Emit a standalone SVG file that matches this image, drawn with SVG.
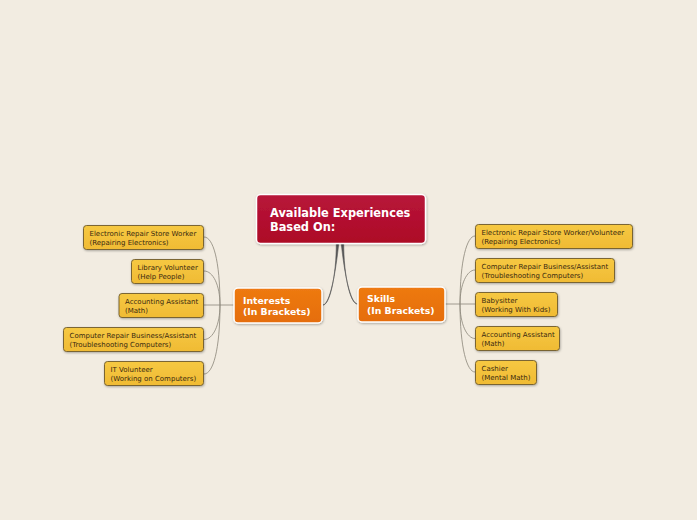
<svg xmlns="http://www.w3.org/2000/svg" width="697" height="520" viewBox="0 0 697 520">
<defs>
<filter id="sh" x="-10%" y="-10%" width="130%" height="140%">
<feDropShadow dx="0.6" dy="1" stdDeviation="0.8" flood-color="#000" flood-opacity="0.3"/>
</filter>
<linearGradient id="gc" x1="0" y1="0" x2="0" y2="1"><stop offset="0" stop-color="#b8153a"/><stop offset="1" stop-color="#ad0a26"/></linearGradient>
<linearGradient id="go" x1="0" y1="0" x2="0" y2="1"><stop offset="0" stop-color="#ee7a12"/><stop offset="1" stop-color="#e56d0a"/></linearGradient>
<linearGradient id="gl" x1="0" y1="0" x2="0" y2="1"><stop offset="0" stop-color="#f6c842"/><stop offset="1" stop-color="#f0bb34"/></linearGradient>
</defs>
<style>
.main{fill:url(#gc);stroke:#fff;stroke-width:1.5;filter:url(#sh)}
.sub{fill:url(#go);stroke:#fff;stroke-width:1.5;filter:url(#sh)}
.leaf{fill:url(#gl);stroke:#6e5a2c;stroke-width:0.9;filter:url(#sh)}
.tm{font-family:"DejaVu Sans",Verdana,sans-serif;font-weight:bold;font-size:11.4px;fill:#fff}
.ts{font-family:"DejaVu Sans",Verdana,sans-serif;font-weight:bold;font-size:9.3px;fill:#fff}
.tl{font-family:"DejaVu Sans",Verdana,sans-serif;font-size:7px;fill:#3a2a10}
.c1{fill:#555;stroke:#555;stroke-width:0.6}
.c2{fill:none;stroke:#8a8578;stroke-width:0.8}
</style>
<rect width="697" height="520" fill="#f2ece1"/>
<g id="connectors">
<path class="c1" d="M336.3,243 C336.3,275 330,305 323,305 C329.5,304.5 335.5,275 338.8,243 Z"/>
<path class="c1" d="M341.2,243 C344.5,275 350.5,303.5 357.5,304 C350,304 343.7,275 343.7,243 Z"/>
<path class="c2" d="M234,305 L220,305"/>
<path class="c2" d="M220,305 C220,260 213,237 204,237"/>
<path class="c2" d="M220,305 C220,285 213,271 204,271"/>
<path class="c2" d="M220,305 L204,305"/>
<path class="c2" d="M220,305 C220,325 213,339.5 204,339.5"/>
<path class="c2" d="M220,305 C220,350 213,374 204,374"/>
<path class="c2" d="M445,304 L460,304"/>
<path class="c2" d="M460,304 C460,260 467,236 475,236"/>
<path class="c2" d="M460,304 C460,284 467,270 475,270"/>
<path class="c2" d="M460,304 L475,304"/>
<path class="c2" d="M460,304 C460,324 467,338.5 475,338.5"/>
<path class="c2" d="M460,304 C460,348 467,372 475,372"/>
</g>
<g id="central">
<rect class="main" x="256.5" y="194.5" width="169" height="49" rx="4"/>
<text class="tm" x="270" y="217">Available Experiences</text>
<text class="tm" x="270" y="230.5">Based On:</text>
</g>
<g id="interests">
<rect class="sub" x="234" y="288" width="88" height="35" rx="4"/>
<text class="ts" x="243" y="303.5">Interests</text>
<text class="ts" x="243" y="315">(In Brackets)</text>
</g>
<g id="skills">
<rect class="sub" x="358" y="287" width="87" height="35" rx="4"/>
<text class="ts" x="367" y="302">Skills</text>
<text class="ts" x="367" y="313.5">(In Brackets)</text>
</g>
<g id="i1">
<rect class="leaf" x="83.5" y="225.5" width="120" height="24" rx="3"/>
<text class="tl" x="89.5" y="236">Electronic Repair Store Worker</text>
<text class="tl" x="89.5" y="244.5">(Repairing Electronics)</text>
</g>
<g id="i2">
<rect class="leaf" x="131.5" y="259.5" width="72" height="24" rx="3"/>
<text class="tl" x="137.5" y="270">Library Volunteer</text>
<text class="tl" x="137.5" y="278.5">(Help People)</text>
</g>
<g id="i3">
<rect class="leaf" x="119" y="293.5" width="84.5" height="24" rx="3"/>
<text class="tl" x="125" y="304">Accounting Assistant</text>
<text class="tl" x="125" y="312.5">(Math)</text>
</g>
<g id="i4">
<rect class="leaf" x="63.5" y="327.5" width="140" height="24" rx="3"/>
<text class="tl" x="69.5" y="338">Computer Repair Business/Assistant</text>
<text class="tl" x="69.5" y="346.5">(Troubleshooting Computers)</text>
</g>
<g id="i5">
<rect class="leaf" x="104.5" y="361.5" width="99" height="24" rx="3"/>
<text class="tl" x="110.5" y="372">IT Volunteer</text>
<text class="tl" x="110.5" y="380.5">(Working on Computers)</text>
</g>
<g id="s1">
<rect class="leaf" x="475.5" y="224.5" width="157" height="24" rx="3"/>
<text class="tl" x="481.5" y="235">Electronic Repair Store Worker/Volunteer</text>
<text class="tl" x="481.5" y="243.5">(Repairing Electronics)</text>
</g>
<g id="s2">
<rect class="leaf" x="475.5" y="258.5" width="139" height="24" rx="3"/>
<text class="tl" x="481.5" y="269">Computer Repair Business/Assistant</text>
<text class="tl" x="481.5" y="277.5">(Troubleshooting Computers)</text>
</g>
<g id="s3">
<rect class="leaf" x="475.5" y="292.5" width="82" height="24" rx="3"/>
<text class="tl" x="481.5" y="303">Babysitter</text>
<text class="tl" x="481.5" y="311.5">(Working With Kids)</text>
</g>
<g id="s4">
<rect class="leaf" x="475.5" y="326.5" width="84" height="24" rx="3"/>
<text class="tl" x="481.5" y="337">Accounting Assistant</text>
<text class="tl" x="481.5" y="345.5">(Math)</text>
</g>
<g id="s5">
<rect class="leaf" x="475.5" y="360.5" width="61" height="24" rx="3"/>
<text class="tl" x="481.5" y="371">Cashier</text>
<text class="tl" x="481.5" y="379.5">(Mental Math)</text>
</g>
</svg>
